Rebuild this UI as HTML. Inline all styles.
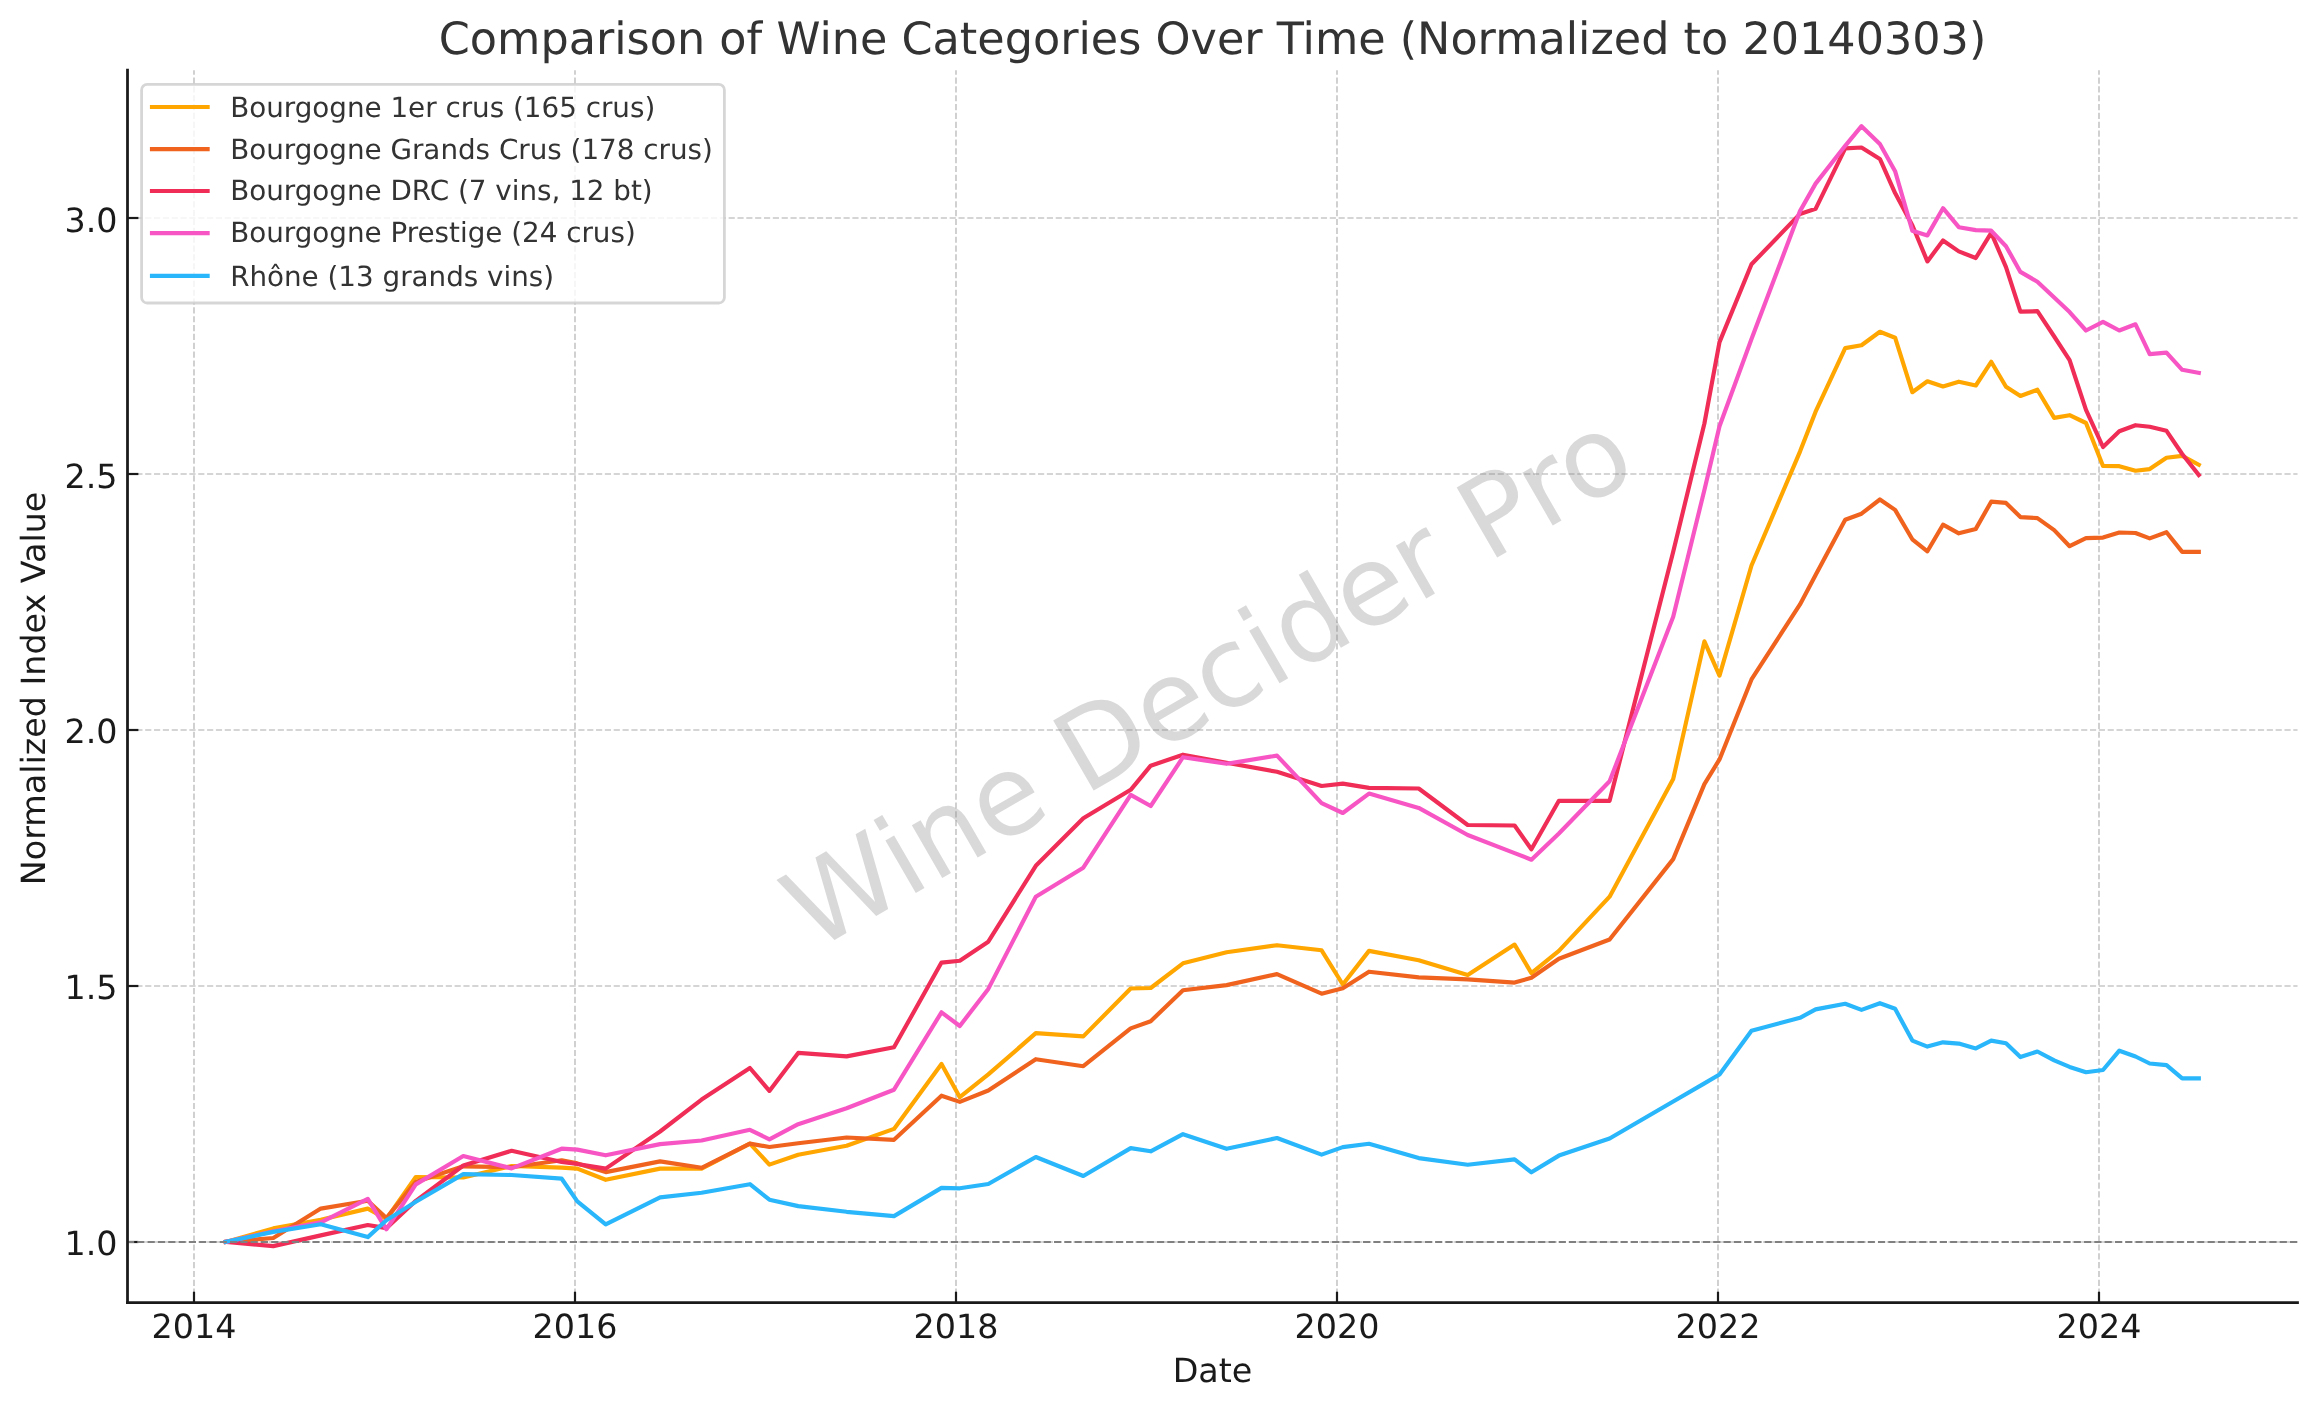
<!DOCTYPE html>
<html lang="en"><head><meta charset="utf-8"><title>Comparison of Wine Categories Over Time</title>
<style>html,body{margin:0;padding:0;background:#fff}svg{display:block;will-change:transform}text{text-rendering:geometricPrecision}</style></head>
<body>
<svg width="2317" height="1409" viewBox="0 0 2317 1409" font-family="'DejaVu Sans','Liberation Sans',sans-serif">
<rect width="2317" height="1409" fill="#fff"/>
<g stroke="#c8c8c8" stroke-width="1.67" stroke-dasharray="6.17 2.67" fill="none">
<line x1="194.0" y1="1302.6" x2="194.0" y2="70.2" stroke-dashoffset="1.0"/>
<line x1="575.0" y1="1302.6" x2="575.0" y2="70.2" stroke-dashoffset="1.0"/>
<line x1="956.0" y1="1302.6" x2="956.0" y2="70.2" stroke-dashoffset="1.0"/>
<line x1="1337.0" y1="1302.6" x2="1337.0" y2="70.2" stroke-dashoffset="1.0"/>
<line x1="1718.0" y1="1302.6" x2="1718.0" y2="70.2" stroke-dashoffset="1.0"/>
<line x1="2099.0" y1="1302.6" x2="2099.0" y2="70.2" stroke-dashoffset="1.0"/>
<line x1="127.5" y1="1242.0" x2="2297.5" y2="1242.0"/>
<line x1="127.5" y1="986.0" x2="2297.5" y2="986.0"/>
<line x1="127.5" y1="730.0" x2="2297.5" y2="730.0"/>
<line x1="127.5" y1="474.0" x2="2297.5" y2="474.0"/>
<line x1="127.5" y1="218.0" x2="2297.5" y2="218.0"/>
</g>
<text x="1212.5" y="688.3" dy="29.1" transform="rotate(-30 1212.5 688.3)" font-size="111.1" text-anchor="middle" fill="#808080" fill-opacity="0.3">Wine Decider Pro</text>
<g fill="none" stroke-width="4.17" stroke-linejoin="round" stroke-linecap="square">
<polyline stroke="#ffa600" points="225.8,1241.9 273.3,1228.4 320.8,1219.8 367.8,1208.6 386.4,1219.0 415.8,1177.0 463.3,1177.5 511.6,1166.0 561.7,1167.7 577.3,1168.6 605.7,1179.8 660.1,1168.6 701.6,1168.6 749.9,1143.6 769.4,1164.6 798.2,1154.8 846.6,1145.7 894.0,1128.9 941.5,1063.9 959.8,1097.2 988.3,1074.4 1035.8,1033.2 1083.3,1036.4 1130.7,988.5 1150.7,988.0 1183.0,963.3 1226.6,952.3 1277.0,945.2 1321.6,950.3 1342.8,984.5 1369.0,950.9 1418.7,960.3 1467.7,975.0 1514.6,944.6 1531.4,973.1 1558.9,950.9 1609.6,896.7 1673.2,779.0 1704.4,641.4 1719.5,675.6 1751.5,565.5 1800.0,451.6 1815.6,411.7 1845.2,348.1 1861.5,345.3 1879.9,331.8 1895.1,337.7 1912.3,392.2 1927.4,381.3 1943.0,386.5 1958.8,381.7 1975.8,385.5 1991.2,361.8 2006.0,386.8 2020.4,396.0 2037.4,389.7 2054.2,417.9 2069.6,415.2 2086.0,423.0 2103.0,465.9 2119.3,466.2 2135.5,470.7 2149.7,469.1 2166.5,457.8 2182.2,455.9 2198.8,464.8"/>
<polyline stroke="#f0631f" points="225.8,1241.9 273.3,1238.0 320.8,1208.6 367.8,1200.8 386.4,1218.1 415.8,1181.9 463.3,1166.3 511.6,1167.2 561.7,1160.3 577.3,1163.4 605.7,1172.1 660.1,1161.4 701.6,1167.8 749.9,1143.6 769.4,1147.0 798.2,1143.2 846.6,1137.5 894.0,1139.8 941.5,1095.7 959.8,1101.9 988.3,1090.5 1035.8,1059.2 1083.3,1066.2 1130.7,1028.4 1150.7,1021.2 1183.0,990.3 1226.6,985.1 1277.0,974.1 1321.6,993.7 1342.8,988.3 1369.0,971.7 1418.7,977.4 1467.7,979.3 1514.6,982.6 1531.4,977.8 1558.9,958.8 1609.6,939.5 1673.2,859.1 1704.4,784.1 1719.5,759.4 1751.5,679.4 1800.0,604.4 1815.6,575.1 1845.2,519.8 1861.5,513.7 1879.9,499.5 1895.1,509.9 1912.3,539.3 1927.4,551.3 1943.0,524.7 1958.8,533.3 1975.8,528.9 1991.2,501.7 2006.0,502.9 2020.4,517.1 2037.4,518.1 2054.2,530.1 2069.6,546.2 2086.0,538.1 2103.0,537.6 2119.3,532.5 2135.5,533.0 2149.7,538.4 2166.5,532.2 2182.2,551.9 2198.8,551.9"/>
<polyline stroke="#ef2d56" points="225.8,1241.9 273.3,1246.1 320.8,1235.4 367.8,1225.0 386.4,1228.1 415.8,1200.8 463.3,1165.5 511.6,1150.8 561.7,1162.0 577.3,1164.0 605.7,1168.6 660.1,1131.5 701.6,1099.6 749.9,1068.0 769.4,1090.9 798.2,1052.9 846.6,1056.4 894.0,1047.3 941.5,962.6 959.8,960.7 988.3,941.7 1035.8,865.8 1083.3,818.3 1130.7,789.8 1150.7,765.7 1183.0,754.7 1226.6,762.7 1277.0,771.8 1321.6,786.0 1342.8,783.6 1369.0,787.9 1418.7,788.5 1467.7,825.0 1514.6,825.5 1531.4,849.3 1558.9,800.8 1609.6,800.8 1673.2,551.8 1704.4,423.5 1719.5,342.1 1751.5,264.3 1800.0,213.9 1815.6,208.8 1845.2,148.4 1861.5,147.5 1879.9,158.9 1895.1,193.1 1912.3,225.3 1927.4,261.4 1943.0,240.5 1958.8,251.4 1975.8,258.0 1991.2,232.9 2006.0,267.1 2020.4,311.7 2037.4,311.2 2054.2,336.5 2069.6,360.1 2086.0,409.8 2103.0,447.0 2119.3,431.3 2135.5,425.2 2149.7,426.7 2166.5,430.8 2182.2,454.0 2198.8,475.0"/>
<polyline stroke="#f755c3" points="225.8,1241.9 273.3,1231.3 320.8,1222.4 367.8,1198.8 386.4,1229.3 415.8,1184.4 463.3,1156.0 511.6,1168.4 561.7,1148.7 577.3,1149.6 605.7,1155.3 660.1,1144.1 701.6,1140.5 749.9,1129.8 769.4,1139.3 798.2,1124.2 846.6,1108.2 894.0,1089.7 941.5,1012.3 959.8,1026.0 988.3,988.9 1035.8,896.7 1083.3,867.7 1130.7,794.9 1150.7,806.0 1183.0,757.2 1226.6,763.8 1277.0,755.6 1321.6,803.1 1342.8,813.0 1369.0,793.6 1418.7,807.9 1467.7,835.0 1514.6,853.1 1531.4,859.7 1558.9,833.5 1609.6,781.3 1673.2,616.7 1704.4,490.0 1719.5,426.3 1751.5,339.0 1800.0,211.1 1815.6,183.6 1845.2,145.8 1861.5,126.2 1879.9,144.1 1895.1,171.2 1912.3,230.7 1927.4,235.4 1943.0,208.2 1958.8,227.2 1975.8,230.1 1991.2,230.7 2006.0,246.2 2020.4,271.9 2037.4,281.7 2054.2,297.5 2069.6,312.1 2086.0,330.5 2103.0,321.8 2119.3,330.5 2135.5,324.3 2149.7,354.2 2166.5,352.6 2182.2,369.8 2198.8,372.9"/>
<polyline stroke="#29b6fa" points="225.8,1241.9 273.3,1231.9 320.8,1224.2 367.8,1237.1 386.4,1220.2 415.8,1201.7 463.3,1174.1 511.6,1175.0 561.7,1178.7 577.3,1201.4 605.7,1224.4 660.1,1197.4 701.6,1192.8 749.9,1184.2 769.4,1199.7 798.2,1206.1 846.6,1211.8 894.0,1216.1 941.5,1187.9 959.8,1188.3 988.3,1184.0 1035.8,1157.0 1083.3,1176.0 1130.7,1148.1 1150.7,1151.3 1183.0,1134.2 1226.6,1148.8 1277.0,1138.0 1321.6,1154.6 1342.8,1147.1 1369.0,1143.8 1418.7,1158.1 1467.7,1164.7 1514.6,1159.4 1531.4,1172.3 1558.9,1155.6 1609.6,1138.5 1673.2,1101.5 1704.4,1083.4 1719.5,1074.5 1751.5,1030.7 1800.0,1017.8 1815.6,1009.4 1845.2,1003.8 1861.5,1009.9 1879.9,1003.2 1895.1,1008.8 1912.3,1040.6 1927.4,1046.6 1943.0,1042.3 1958.8,1043.6 1975.8,1048.4 1991.2,1040.6 2006.0,1043.3 2020.4,1057.1 2037.4,1051.5 2054.2,1060.4 2069.6,1066.9 2086.0,1072.2 2103.0,1070.0 2119.3,1050.7 2135.5,1056.5 2149.7,1063.5 2166.5,1065.1 2182.2,1078.4 2198.8,1078.4"/>
</g>
<g stroke="#1a1a1a" stroke-width="2.2">
<line x1="194.0" y1="1302.6" x2="194.0" y2="1291.6999999999998"/>
<line x1="575.0" y1="1302.6" x2="575.0" y2="1291.6999999999998"/>
<line x1="956.0" y1="1302.6" x2="956.0" y2="1291.6999999999998"/>
<line x1="1337.0" y1="1302.6" x2="1337.0" y2="1291.6999999999998"/>
<line x1="1718.0" y1="1302.6" x2="1718.0" y2="1291.6999999999998"/>
<line x1="2099.0" y1="1302.6" x2="2099.0" y2="1291.6999999999998"/>
<line x1="127.5" y1="1242.0" x2="138.4" y2="1242.0"/>
<line x1="127.5" y1="986.0" x2="138.4" y2="986.0"/>
<line x1="127.5" y1="730.0" x2="138.4" y2="730.0"/>
<line x1="127.5" y1="474.0" x2="138.4" y2="474.0"/>
<line x1="127.5" y1="218.0" x2="138.4" y2="218.0"/>
</g>
<line x1="127.0" y1="1242" x2="2297.5" y2="1242" stroke="#808080" stroke-width="1.94" stroke-dasharray="7.19 3.11"/>
<g stroke="#1a1a1a" stroke-width="2.78" stroke-linecap="square" fill="none">
<line x1="127.5" y1="1302.6" x2="127.5" y2="70.2"/>
<line x1="127.5" y1="1302.6" x2="2297.5" y2="1302.6"/>
</g>
<g font-size="33.33" fill="#1a1a1a">
<text x="194.0" y="1338" text-anchor="middle">2014</text>
<text x="575.0" y="1338" text-anchor="middle">2016</text>
<text x="956.0" y="1338" text-anchor="middle">2018</text>
<text x="1337.0" y="1338" text-anchor="middle">2020</text>
<text x="1718.0" y="1338" text-anchor="middle">2022</text>
<text x="2099.0" y="1338" text-anchor="middle">2024</text>
<text x="117.5" y="1255.0" text-anchor="end">1.0</text>
<text x="117.5" y="999.0" text-anchor="end">1.5</text>
<text x="117.5" y="743.0" text-anchor="end">2.0</text>
<text x="117.5" y="487.9" text-anchor="end">2.5</text>
<text x="117.5" y="231.9" text-anchor="end">3.0</text>
<text x="1212.5" y="1382" text-anchor="middle">Date</text>
<text transform="translate(44.5 688.4) rotate(-90)" text-anchor="middle">Normalized Index Value</text>
</g>
<text x="1212.55" y="53.5" font-size="44.50" text-anchor="middle" fill="#333">Comparison of Wine Categories Over Time (Normalized to 20140303)</text>
<rect x="141.6" y="84.4" width="582.8" height="218.6" rx="5.6" fill="#fff" fill-opacity="0.8" stroke="#ccc" stroke-opacity="0.8" stroke-width="2.78"/>
<g font-size="27.78" fill="#333">
<line x1="152" y1="107.0" x2="207.6" y2="107.0" stroke="#ffa600" stroke-width="4.17" stroke-linecap="square"/>
<text x="230.15" y="117.2">Bourgogne 1er crus (165 crus)</text>
<line x1="152" y1="149.2" x2="207.6" y2="149.2" stroke="#f0631f" stroke-width="4.17" stroke-linecap="square"/>
<text x="230.15" y="159.3">Bourgogne Grands Crus (178 crus)</text>
<line x1="152" y1="191.0" x2="207.6" y2="191.0" stroke="#ef2d56" stroke-width="4.17" stroke-linecap="square"/>
<text x="230.15" y="200.3">Bourgogne DRC (7 vins, 12 bt)</text>
<line x1="152" y1="233.1" x2="207.6" y2="233.1" stroke="#f755c3" stroke-width="4.17" stroke-linecap="square"/>
<text x="230.15" y="242.4">Bourgogne Prestige (24 crus)</text>
<line x1="152" y1="275.9" x2="207.6" y2="275.9" stroke="#29b6fa" stroke-width="4.17" stroke-linecap="square"/>
<text x="230.15" y="285.7">Rhône (13 grands vins)</text>
</g>
</svg>
</body></html>
